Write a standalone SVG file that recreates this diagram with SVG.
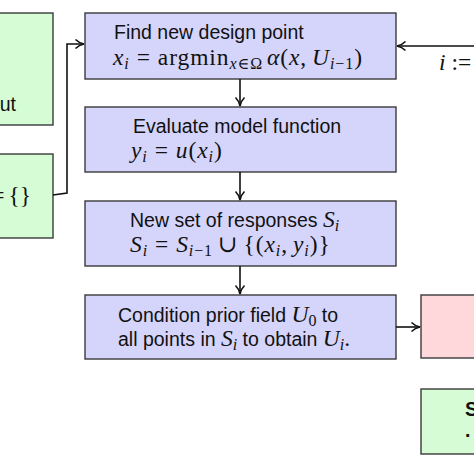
<svg xmlns="http://www.w3.org/2000/svg" width="474" height="474" viewBox="0 0 474 474">
<style>
.box{stroke:#3a3a3a;stroke-width:1.4}
.blue{fill:#d5d5fb}
.green{fill:#d6fcd6}
.red{fill:#ffd8dc}
.t{font-family:"Liberation Sans",Arial,sans-serif;font-size:19.5px;fill:#111}
.m{font-family:"Liberation Serif","DejaVu Serif",serif;font-size:23.5px;fill:#111}
.ls{letter-spacing:0.9px}
.i{font-style:italic}
.s{font-size:16px}
.c{fill:none;stroke:#111;stroke-width:1.6}
</style>
<defs>
<marker id="ah" markerWidth="12" markerHeight="12" refX="10" refY="6" orient="auto" markerUnits="userSpaceOnUse">
<path d="M1.5,1.5 Q5,5 10,6 Q5,7 1.5,10.5" fill="none" stroke="#111" stroke-width="1.6"/>
</marker>
</defs>
<rect width="474" height="474" fill="#fff"/>

<g id="input">
<rect class="box green" x="-5" y="13" width="58" height="112"/>
<text class="t" x="16" y="111" text-anchor="end">Input</text>
</g>

<g id="init">
<rect class="box green" x="-5" y="154" width="58" height="84"/>
<text class="m" x="31" y="203" text-anchor="end"><tspan class="i">S</tspan><tspan class="s" dy="4">0</tspan><tspan dy="-4" dx="5">=</tspan><tspan dx="4">{}</tspan></text>
</g>

<g id="find">
<rect class="box blue" x="85" y="13" width="311" height="66"/>
<text class="t" x="114" y="39">Find new design point</text>
<text class="m ls" x="113" y="65"><tspan class="i">x</tspan><tspan class="s i" dy="4">i</tspan><tspan dy="-4" dx="7">=</tspan><tspan dx="7">argmin</tspan><tspan class="s" dy="4"><tspan class="i">x</tspan>∈Ω</tspan><tspan dy="-4" dx="4" class="i">α</tspan><tspan>(</tspan><tspan class="i">x</tspan><tspan>,</tspan><tspan dx="5" class="i">U</tspan><tspan class="s i" dy="4">i</tspan><tspan class="s">−1</tspan><tspan dy="-4">)</tspan></text>
</g>

<g id="evaluate">
<rect class="box blue" x="85" y="107" width="311" height="65"/>
<text class="t" x="133" y="133">Evaluate model function</text>
<text class="m ls" x="131" y="158"><tspan class="i">y</tspan><tspan class="s i" dy="4">i</tspan><tspan dy="-4" dx="7">=</tspan><tspan dx="7" class="i">u</tspan>(<tspan class="i">x</tspan><tspan class="s i" dy="4">i</tspan><tspan dy="-4">)</tspan></text>
</g>

<g id="responses">
<rect class="box blue" x="85" y="201" width="311" height="65"/>
<text class="t" x="130" y="227">New set of responses <tspan class="m i">S</tspan><tspan class="m s i" dy="4">i</tspan></text>
<text class="m ls" x="130" y="252"><tspan class="i">S</tspan><tspan class="s i" dy="4">i</tspan><tspan dy="-4" dx="7">=</tspan><tspan dx="7" class="i">S</tspan><tspan class="s i" dy="4">i</tspan><tspan class="s">−1</tspan><tspan dy="-4" dx="5">∪</tspan><tspan dx="5">{(</tspan><tspan class="i">x</tspan><tspan class="s i" dy="4">i</tspan><tspan dy="-4">,</tspan><tspan dx="5" class="i">y</tspan><tspan class="s i" dy="4">i</tspan><tspan dy="-4">)}</tspan></text>
</g>

<g id="condition">
<rect class="box blue" x="85" y="295" width="311" height="64"/>
<text class="t" x="118" y="322">Condition prior field <tspan class="m i">U</tspan><tspan class="m s" dy="4">0</tspan><tspan dy="-4"> to</tspan></text>
<text class="t" x="118" y="346">all points in <tspan class="m i">S</tspan><tspan class="m s i" dy="4">i</tspan><tspan dy="-4"> to obtain </tspan><tspan class="m i">U</tspan><tspan class="m s i" dy="4">i</tspan><tspan class="m" dy="-4">.</tspan></text>
</g>

<g id="check">
<rect class="box red" x="421" y="295" width="60" height="63"/>
</g>

<g id="stop">
<rect class="box green" x="421" y="389" width="60" height="65"/>
<text class="t" x="465" y="416" font-weight="bold" font-size="22">S</text>
<text class="t" x="465" y="437" font-weight="bold" font-size="22">.</text>
</g>

<g id="increment">
<text class="m" x="439" y="70"><tspan class="i">i</tspan><tspan dx="6">:=</tspan><tspan dx="6" class="i">i</tspan> + 1</text>
</g>

<g id="connectors">
<polyline class="c" points="53,195 67,193 67,44 84,44" marker-end="url(#ah)"/>
<line class="c" x1="240" y1="79" x2="240" y2="106" marker-end="url(#ah)"/>
<line class="c" x1="240" y1="172" x2="240" y2="200" marker-end="url(#ah)"/>
<line class="c" x1="240" y1="266" x2="240" y2="294" marker-end="url(#ah)"/>
<line class="c" x1="396" y1="327" x2="420" y2="327" marker-end="url(#ah)"/>
<line class="c" x1="480" y1="46" x2="397" y2="46" marker-end="url(#ah)"/>
</g>
</svg>
